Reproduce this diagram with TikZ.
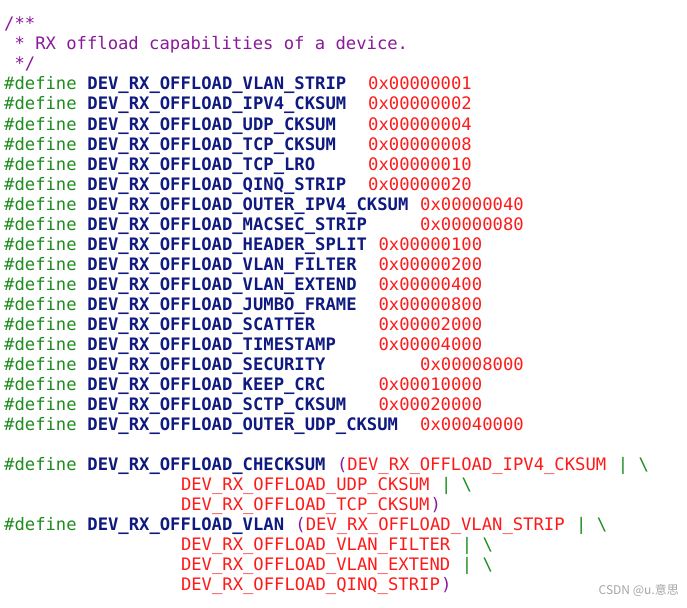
\documentclass[tikz,border=0pt]{standalone}
\usepackage{fontspec}
\setmonofont{DejaVu Sans Mono}
\newfontfamily\cjk{Noto Sans CJK SC}
\definecolor{cm}{HTML}{8A1A9B}
\definecolor{kw}{HTML}{1E8C1E}
\definecolor{nm}{HTML}{0F1A80}
\definecolor{rv}{HTML}{FF1A1A}
\newcommand{\sg}[4]{\node[anchor=base west,inner sep=0pt,text=#3] at ({4+#1*10.4},{-(30+20*#2)}) {\ttfamily\fontsize{17.2}{20}\selectfont #4};}
\newcommand{\df}[4]{\sg{0}{#1}{kw}{\#define}\sg{8}{#1}{nm}{\bfseries #2}\sg{#3}{#1}{rv}{#4}}
\newcommand{\ct}{|~\textbackslash}
\begin{document}
\begin{tikzpicture}[x=1pt,y=1pt]
\useasboundingbox (0,0) rectangle (687,-607);
\fill[white] (0,0) rectangle (687,-607);
\sg{0}{0}{cm}{/**}
\sg{1}{1}{cm}{* RX offload capabilities of a device.}
\sg{1}{2}{cm}{*/}
\df{3}{DEV\_RX\_OFFLOAD\_VLAN\_STRIP}{35}{0x00000001}
\df{4}{DEV\_RX\_OFFLOAD\_IPV4\_CKSUM}{35}{0x00000002}
\df{5}{DEV\_RX\_OFFLOAD\_UDP\_CKSUM}{35}{0x00000004}
\df{6}{DEV\_RX\_OFFLOAD\_TCP\_CKSUM}{35}{0x00000008}
\df{7}{DEV\_RX\_OFFLOAD\_TCP\_LRO}{35}{0x00000010}
\df{8}{DEV\_RX\_OFFLOAD\_QINQ\_STRIP}{35}{0x00000020}
\df{9}{DEV\_RX\_OFFLOAD\_OUTER\_IPV4\_CKSUM}{40}{0x00000040}
\df{10}{DEV\_RX\_OFFLOAD\_MACSEC\_STRIP}{40}{0x00000080}
\df{11}{DEV\_RX\_OFFLOAD\_HEADER\_SPLIT}{36}{0x00000100}
\df{12}{DEV\_RX\_OFFLOAD\_VLAN\_FILTER}{36}{0x00000200}
\df{13}{DEV\_RX\_OFFLOAD\_VLAN\_EXTEND}{36}{0x00000400}
\df{14}{DEV\_RX\_OFFLOAD\_JUMBO\_FRAME}{36}{0x00000800}
\df{15}{DEV\_RX\_OFFLOAD\_SCATTER}{36}{0x00002000}
\df{16}{DEV\_RX\_OFFLOAD\_TIMESTAMP}{36}{0x00004000}
\df{17}{DEV\_RX\_OFFLOAD\_SECURITY}{40}{0x00008000}
\df{18}{DEV\_RX\_OFFLOAD\_KEEP\_CRC}{36}{0x00010000}
\df{19}{DEV\_RX\_OFFLOAD\_SCTP\_CKSUM}{36}{0x00020000}
\df{20}{DEV\_RX\_OFFLOAD\_OUTER\_UDP\_CKSUM}{40}{0x00040000}
\df{22}{DEV\_RX\_OFFLOAD\_CHECKSUM}{33}{DEV\_RX\_OFFLOAD\_IPV4\_CKSUM}
\sg{32}{22}{cm}{(}\sg{59}{22}{kw}{\ct}
\sg{17}{23}{rv}{DEV\_RX\_OFFLOAD\_UDP\_CKSUM}\sg{42}{23}{kw}{\ct}
\sg{17}{24}{rv}{DEV\_RX\_OFFLOAD\_TCP\_CKSUM}\sg{41}{24}{cm}{)}
\df{25}{DEV\_RX\_OFFLOAD\_VLAN}{29}{DEV\_RX\_OFFLOAD\_VLAN\_STRIP}
\sg{28}{25}{cm}{(}\sg{55}{25}{kw}{\ct}
\sg{17}{26}{rv}{DEV\_RX\_OFFLOAD\_VLAN\_FILTER}\sg{44}{26}{kw}{\ct}
\sg{17}{27}{rv}{DEV\_RX\_OFFLOAD\_VLAN\_EXTEND}\sg{44}{27}{kw}{\ct}
\sg{17}{28}{rv}{DEV\_RX\_OFFLOAD\_QINQ\_STRIP}\sg{42}{28}{cm}{)}
\node[anchor=base east,inner sep=0pt,text=gray!70] (wm) at (679,-594) {\cjk\fontsize{12}{14}\selectfont CSDN @u.意思};
\end{tikzpicture}
\end{document}
